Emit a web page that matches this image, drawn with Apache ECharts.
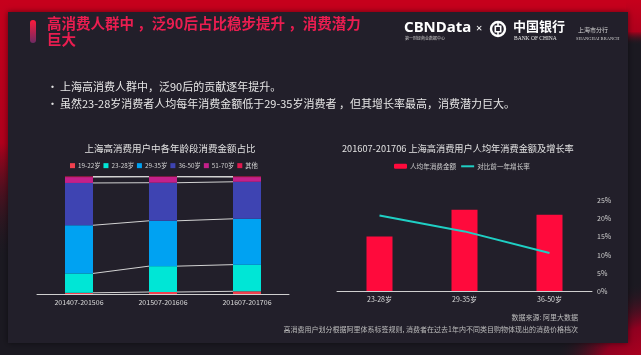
<!DOCTYPE html>
<html><head><meta charset="utf-8">
<script src="https://cdn.jsdelivr.net/npm/echarts@6/dist/echarts.min.js"></script>
<style>html,body{margin:0;padding:0;background:#1c1a22;}#c{width:641px;height:355px;}</style>
</head><body><div id="c"></div>
<script>
// ---- data ----
const ageGroups = ['19-22岁','23-28岁','29-35岁','36-50岁','51-70岁','其他'];
const periods = ['201407-201506','201507-201606','201607-201706'];
const share1922 = [1.0, 1.7, 2.3];
const share2328 = [16.5, 22.0, 22.7];
const share2935 = [41.0, 38.6, 39.0];
const share3650 = [36.0, 32.4, 31.5];
const share5170 = [5.0, 5.0, 4.0];
const shareOther = [0.5, 0.3, 0.5];
const ageCats = ['23-28岁','29-35岁','36-50岁'];
const avgSpendIndex = [15.1, 22.5, 21.1];
const growthRate = [20.9, 16.5, 10.5];
const rateTicks = [0, 5, 10, 15, 20, 25];

const ageColors = ['#f0404e','#00e6d6','#00a2f2','#3e44b2','#c4208a','#e0194f'];
const shares = [share1922, share2328, share2935, share3650, share5170, shareOther];

// cumulative boundaries for connecting lines
const linkData = [];
const cum = periods.map(() => 0);
shares.forEach(arr => {
  arr.forEach((v, i) => { cum[i] += v; });
  for (let i = 0; i < periods.length - 1; i++) linkData.push([i, cum[i], cum[i + 1]]);
});

const F = 'Noto Sans CJK SC';
const chart = echarts.init(document.getElementById('c'), null, {renderer: 'canvas'});

const bg = [
  {type:'rect', z:-20, shape:{x:0,y:0,width:641,height:355}, style:{fill:'#1b1921'}},
  {type:'rect', z:-19, shape:{x:0,y:0,width:641,height:14}, style:{fill:'#c6001c'}},
  {type:'rect', z:-19, shape:{x:0,y:0,width:10,height:260}, style:{fill:new echarts.graphic.LinearGradient(0,0,0,1,[{offset:0,color:'#c6001c'},{offset:0.55,color:'#b0001c'},{offset:1,color:'rgba(27,25,33,0)'}])}},
  {type:'rect', z:-19, shape:{x:626,y:0,width:15,height:45}, style:{fill:new echarts.graphic.LinearGradient(0,0,0,1,[{offset:0,color:'#c6001c'},{offset:0.7,color:'#b0001c'},{offset:1,color:'rgba(27,25,33,0)'}])}},
  {type:'circle', z:-19, shape:{cx:660,cy:390,r:110}, style:{fill:new echarts.graphic.RadialGradient(0.5,0.5,0.5,[{offset:0,color:'#d0001e'},{offset:0.6,color:'#900020'},{offset:1,color:'rgba(27,25,33,0)'}])}},
  {type:'rect', z:-18, shape:{x:8,y:12,width:620,height:331}, style:{fill:'#221f2a', shadowBlur:6, shadowColor:'rgba(0,0,0,0.5)'}},
  // accent bar
  {type:'rect', z:5, shape:{x:30,y:20,width:6,height:23,r:3}, style:{fill:new echarts.graphic.LinearGradient(0,0,0,1,[{offset:0,color:'#ff1a3c'},{offset:1,color:'#6e2a62'}])}},
  // main title
  {type:'text', z:5, x:47, y:15, style:{text:'高消费人群中 ，泛90后占比稳步提升 ，消费潜力\n巨大', fill:'#ea1d50', font:'bold 14.5px "Noto Sans CJK SC"', lineHeight:16.5}},
  // logos
  {type:'text', z:5, x:404, y:28, style:{text:'CBNData', fill:'#ffffff', font:'bold 15px "Noto Sans"', verticalAlign:'middle'}},
  {type:'text', z:5, x:405, y:38.5, style:{text:'第一财经商业数据中心', fill:'#cccccc', font:'4px "Noto Sans CJK SC"', verticalAlign:'middle'}},
  {type:'text', z:5, x:476, y:29, style:{text:'×', fill:'#ffffff', font:'11px "Noto Sans"', verticalAlign:'middle'}},
  {type:'circle', z:5, shape:{cx:498,cy:29,r:7}, style:{fill:'none', stroke:'#ffffff', lineWidth:2.4}},
  {type:'rect', z:5, shape:{x:495.3,y:26.3,width:5.4,height:5.4}, style:{fill:'none', stroke:'#ffffff', lineWidth:1.6}},
  {type:'line', z:5, shape:{x1:498,y1:21,x2:498,y2:26.3}, style:{stroke:'#ffffff', lineWidth:1.6}},
  {type:'line', z:5, shape:{x1:498,y1:31.7,x2:498,y2:37}, style:{stroke:'#ffffff', lineWidth:1.6}},
  {type:'text', z:5, x:513, y:26, style:{text:'中国银行', fill:'#ffffff', font:'bold 13px "Noto Sans CJK SC"', verticalAlign:'middle'}},
  {type:'text', z:5, x:514, y:39, style:{text:'BANK OF CHINA', fill:'#e6e6e6', font:'5.5px "Liberation Serif"', verticalAlign:'middle'}},
  {type:'text', z:5, x:578, y:29.5, style:{text:'上海市分行', fill:'#d8d8d8', font:'6px "Noto Sans CJK SC"', verticalAlign:'middle'}},
  {type:'text', z:5, x:576, y:39, style:{text:'SHANGHAI BRANCH', fill:'#d0d0d0', font:'4.5px "Liberation Serif"', verticalAlign:'middle'}},
  // bullets
  {type:'text', z:5, x:47, y:86.5, style:{text:'•', fill:'#e6e6e6', font:'11px "Noto Sans CJK SC"', verticalAlign:'middle'}},
  {type:'text', z:5, x:60, y:86.5, style:{text:'上海高消费人群中，泛90后的贡献逐年提升。', fill:'#e6e6e6', font:'11px "Noto Sans CJK SC"', verticalAlign:'middle'}},
  {type:'text', z:5, x:47, y:103.5, style:{text:'•', fill:'#e6e6e6', font:'11px "Noto Sans CJK SC"', verticalAlign:'middle'}},
  {type:'text', z:5, x:60, y:103.5, style:{text:'虽然23-28岁消费者人均每年消费金额低于29-35岁消费者 ，但其增长率最高，消费潜力巨大。', fill:'#e6e6e6', font:'11px "Noto Sans CJK SC"', verticalAlign:'middle'}},
  // footnotes
  {type:'text', z:5, x:578, y:317, style:{text:'数据来源: 阿里大数据', fill:'#bdbdbd', font:'7px "Noto Sans CJK SC"', align:'right', verticalAlign:'middle'}},
  {type:'text', z:5, x:578, y:329, style:{text:'高消费用户划分根据阿里体系标签规则, 消费者在过去1年内不同类目购物体现出的消费价格档次', fill:'#bdbdbd', font:'7px "Noto Sans CJK SC"', align:'right', verticalAlign:'middle'}}
];

const axisLabelStyle = {color:'#dcdcdc', fontSize:7, fontFamily:F, margin:5};

const option = {
  backgroundColor: '#1b1921',
  animation: false,
  textStyle: {fontFamily: F},
  graphic: {elements: bg},
  title: [
    {text:'上海高消费用户中各年龄段消费金额占比', left:165, top:138.5, textAlign:'center', textStyle:{color:'#e2e2e2', fontSize:9.5, fontWeight:'normal', fontFamily:F}},
    {text:'201607-201706 上海高消费用户人均年消费金额及增长率', left:337, top:138.5, textStyle:{color:'#e2e2e2', fontSize:9.2, fontWeight:'normal', fontFamily:F}}
  ],
  legend: [
    {data: ageGroups.map(n => ({name:n, icon:'rect'})), left:65, top:157.5, itemWidth:5, itemHeight:5, itemGap:3,
     textStyle:{color:'#d0d0d0', fontSize:6.3, fontFamily:F, padding:[0,0,0,-2]}},
    {data:[{name:'人均年消费金额', icon:'roundRect'}, {name:'对比前一年增长率', icon:'path://M0,0L13,0L13,2L0,2Z'}], left:389, top:158, itemWidth:13, itemHeight:5, itemGap:5,
     textStyle:{color:'#d0d0d0', fontSize:6.6, fontFamily:F, padding:[0,0,0,-2]}}
  ],
  grid: [
    {left:37, width:252, top:176.5, height:117.5},
    {left:337, width:255, top:200.7, height:90.3}
  ],
  xAxis: [
    {type:'category', gridIndex:0, data:periods, axisTick:{show:false}, axisLine:{lineStyle:{color:'#cfcfcf', width:1}}, axisLabel:axisLabelStyle},
    {type:'category', gridIndex:1, data:ageCats, axisTick:{show:false}, axisLine:{lineStyle:{color:'#cfcfcf', width:1}}, axisLabel:axisLabelStyle}
  ],
  yAxis: [
    {type:'value', gridIndex:0, min:0, max:100, show:false, splitLine:{show:false}},
    {type:'value', gridIndex:1, min:0, max:25, show:false, splitLine:{show:false}},
    {type:'value', gridIndex:1, position:'right', min:rateTicks[0], max:rateTicks[rateTicks.length-1], interval:5,
     axisLine:{show:false}, axisTick:{show:false}, splitLine:{show:false},
     axisLabel:{color:'#cfcfcf', fontSize:7, fontFamily:F, margin:5, formatter:'{value}%'}}
  ],
  series: [
    ...shares.map((arr, k) => ({
      name: ageGroups[k], type:'bar', stack:'share', xAxisIndex:0, yAxisIndex:0, barWidth:28,
      itemStyle:{color:ageColors[k]}, data:arr
    })),
    {name:'links', type:'custom', xAxisIndex:0, yAxisIndex:0, z:5, silent:true,
     renderItem: function(params, api){
       const i = api.value(0);
       const a = api.coord([i, api.value(1)]);
       const b = api.coord([i + 1, api.value(2)]);
       return {type:'line', shape:{x1:a[0] + 14, y1:a[1], x2:b[0] - 14, y2:b[1]}, style:{stroke:'#d2d2d2', lineWidth:1}};
     },
     encode:{x:0, y:1},
     data: linkData},
    {name:'人均年消费金额', type:'bar', xAxisIndex:1, yAxisIndex:1, barWidth:26, itemStyle:{color:'#ff0a3c'}, data:avgSpendIndex},
    {name:'对比前一年增长率', type:'line', xAxisIndex:1, yAxisIndex:2, symbol:'none', z:5,
     lineStyle:{color:'#1fcfc4', width:2}, itemStyle:{color:'#1fcfc4'}, data:growthRate}
  ]
};
chart.setOption(option);
</script>
</body></html>
